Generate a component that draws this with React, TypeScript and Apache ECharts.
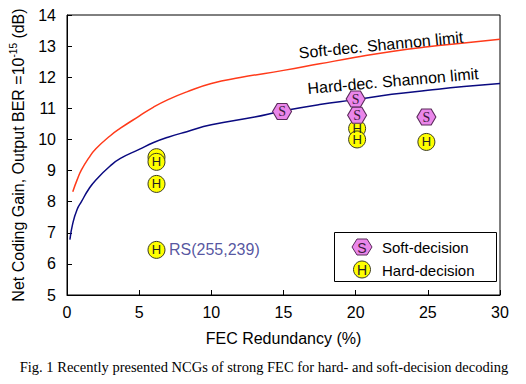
import React, { useEffect, useRef } from "react";
import * as echarts from "echarts";

const xTicks = [0, 5, 10, 15, 20, 25, 30];
const yTicks = [5, 6, 7, 8, 9, 10, 11, 12, 13, 14];

const softLimitX = [0.4, 0.7, 1, 1.5, 2, 3, 3.7, 5, 6, 7, 8.3, 10, 12, 15, 17.5, 20, 22.5, 25, 27.5, 30];
const softLimitY = [8.32, 8.7, 9.02, 9.4, 9.7, 10.12, 10.36, 10.75, 11.04, 11.28, 11.53, 11.8, 11.99, 12.22, 12.43, 12.64, 12.83, 12.98, 13.1, 13.22];

const hardLimitX = [0.2, 0.4, 0.7, 1, 1.5, 2, 3, 3.7, 5, 6, 7, 8.3, 10, 13, 15, 17.5, 20, 22.5, 25, 27.5, 30];
const hardLimitY = [6.78, 7.3, 7.75, 8.0, 8.4, 8.7, 9.15, 9.39, 9.68, 9.9, 10.07, 10.25, 10.47, 10.72, 10.92, 11.12, 11.28, 11.45, 11.58, 11.7, 11.8];

const hardCodesX = [6.2, 6.2, 6.2, 6.2, 20.1, 20.1, 24.9];
const hardCodesY = [9.43, 9.28, 8.57, 6.45, 10.35, 10.0, 9.92];
// points whose letter is hidden behind the marker in front of them
const hardHiddenLetter = [0];

const softCodesX = [14.9, 20.0, 20.1, 24.9];
const softCodesY = [10.9, 11.3, 10.78, 10.72];

const rsPoint = [6.2, 6.45];
const rsLabel = "RS(255,239)";

const SANS = "'Liberation Sans', Arial, sans-serif";
const SERIF = "'Liberation Serif', 'Times New Roman', serif";
const HEX = "path://M0,8.5 L5,0 L15,0 L20,8.5 L15,17 L5,17 Z";
const PINK = "#ea86ea";
const PINK_EDGE = "#5a2a5a";
const YELLOW = "#ffff00";
const YELLOW_EDGE = "#3a3a20";

const zip = (xs: number[], ys: number[]) => xs.map((x, i) => [x, ys[i]]);

export default function App() {
  const ref = useRef<HTMLDivElement>(null);
  useEffect(() => {
    document.body.style.margin = "0";
    const chart = echarts.init(ref.current!, null, { renderer: "svg" });
    const deg = Math.PI / 180;
    const hardData = zip(hardCodesX, hardCodesY).map((v, i) =>
      hardHiddenLetter.includes(i) ? { value: v, label: { show: false } } : { value: v }
    );
    chart.setOption({
      animation: false,
      backgroundColor: "#ffffff",
      grid: {
        left: 66,
        right: 26,
        top: 15,
        bottom: 89,
        show: true,
        borderColor: "#000",
        borderWidth: 1,
        backgroundColor: "transparent",
      },
      xAxis: {
        type: "value",
        min: xTicks[0],
        max: xTicks[xTicks.length - 1],
        interval: 5,
        axisLine: { show: true, lineStyle: { color: "#000", width: 1 } },
        axisTick: { show: true, inside: true, length: 5, lineStyle: { color: "#000" } },
        axisLabel: { color: "#000", fontSize: 16, fontFamily: SANS, margin: 9 },
        splitLine: { show: false },
        name: "FEC Redundancy (%)",
        nameLocation: "middle",
        nameGap: 35,
        nameTextStyle: { color: "#000", fontSize: 16, fontFamily: SANS },
      },
      yAxis: {
        type: "value",
        min: yTicks[0],
        max: yTicks[yTicks.length - 1],
        interval: 1,
        axisLine: { show: true, lineStyle: { color: "#000", width: 1 } },
        axisTick: { show: true, inside: true, length: 5, lineStyle: { color: "#000" } },
        axisLabel: { color: "#000", fontSize: 16, fontFamily: SANS, margin: 11 },
        splitLine: { show: false },
        name: "{a|Net Coding Gain, Output BER =10}{s|-15}{a| (dB)}",
        nameLocation: "middle",
        nameGap: 41,
        nameTextStyle: {
          color: "#000",
          fontFamily: SANS,
          rich: {
            a: { fontSize: 16, fontFamily: SANS, color: "#000", lineHeight: 18, verticalAlign: "bottom" },
            s: { fontSize: 10, fontFamily: SANS, color: "#000", lineHeight: 18, verticalAlign: "top" },
          },
        },
      },
      series: [
        {
          name: "Soft-dec. Shannon limit",
          type: "line",
          data: zip(softLimitX, softLimitY),
          smooth: true,
          showSymbol: false,
          lineStyle: { color: "#ff3a1a", width: 1.5 },
          z: 2,
        },
        {
          name: "Hard-dec. Shannon limit",
          type: "line",
          data: zip(hardLimitX, hardLimitY),
          smooth: true,
          showSymbol: false,
          lineStyle: { color: "#0a0a80", width: 1.5 },
          z: 2,
        },
        {
          name: "Hard-decision",
          type: "scatter",
          data: hardData,
          symbol: "circle",
          symbolSize: 17,
          itemStyle: { color: YELLOW, borderColor: YELLOW_EDGE, borderWidth: 1, opacity: 1 },
          label: {
            show: true,
            position: "inside",
            formatter: "H",
            fontFamily: SANS,
            fontSize: 13,
            lineHeight: 12,
            color: "#222",
          },
          z: 3,
        },
        {
          name: "Soft-decision",
          type: "scatter",
          data: zip(softCodesX, softCodesY),
          symbol: HEX,
          symbolSize: [19, 16],
          itemStyle: { color: PINK, borderColor: PINK_EDGE, borderWidth: 1, opacity: 1 },
          label: {
            show: true,
            position: "inside",
            formatter: "S",
            fontFamily: SERIF,
            fontSize: 14,
            lineHeight: 12,
            color: "#3a1a3a",
          },
          z: 4,
        },
        {
          name: "rs",
          type: "scatter",
          data: [rsPoint],
          symbolSize: 17,
          itemStyle: { color: "rgba(0,0,0,0)", borderWidth: 0 },
          label: {
            show: true,
            position: "right",
            distance: 4,
            formatter: rsLabel,
            fontFamily: SANS,
            fontSize: 16,
            color: "#2a2a88",
          },
          silent: true,
          z: 5,
        },
      ],
      graphic: [
        {
          type: "text",
          x: 381,
          y: 45,
          rotation: 5.5 * deg,
          style: {
            text: "Soft-dec. Shannon limit",
            fontFamily: SANS,
            fontSize: 16,
            fill: "#000",
            align: "center",
            verticalAlign: "middle",
          },
          z: 10,
        },
        {
          type: "text",
          x: 393,
          y: 81,
          rotation: 5 * deg,
          style: {
            text: "Hard-dec. Shannon limit",
            fontFamily: SANS,
            fontSize: 16,
            fill: "#000",
            align: "center",
            verticalAlign: "middle",
          },
          z: 10,
        },
        {
          type: "group",
          z: 20,
          children: [
            {
              type: "rect",
              shape: { x: 334.5, y: 232.5, width: 162, height: 49 },
              style: { fill: "#fff", stroke: "#000", lineWidth: 1 },
            },
            {
              type: "polygon",
              shape: {
                points: [
                  [352, 247],
                  [357, 239],
                  [367, 239],
                  [372, 247],
                  [367, 255],
                  [357, 255],
                ],
              },
              style: { fill: PINK, stroke: PINK_EDGE, lineWidth: 1 },
            },
            {
              type: "text",
              x: 362,
              y: 247.5,
              style: { text: "S", fontFamily: SANS, fontSize: 14, fill: "#3a1a3a", align: "center", verticalAlign: "middle" },
            },
            {
              type: "circle",
              shape: { cx: 362, cy: 269.5, r: 8.5 },
              style: { fill: YELLOW, stroke: YELLOW_EDGE, lineWidth: 1 },
            },
            {
              type: "text",
              x: 362,
              y: 270,
              style: { text: "H", fontFamily: SANS, fontSize: 14, fill: "#222", align: "center", verticalAlign: "middle" },
            },
            {
              type: "text",
              x: 382,
              y: 247,
              style: { text: "Soft-decision", fontFamily: SANS, fontSize: 15, fill: "#000", align: "left", verticalAlign: "middle" },
            },
            {
              type: "text",
              x: 382,
              y: 270,
              style: { text: "Hard-decision", fontFamily: SANS, fontSize: 15, fill: "#000", align: "left", verticalAlign: "middle" },
            },
          ],
        },
        {
          type: "text",
          x: 264,
          y: 367,
          style: {
            text: "Fig. 1 Recently presented NCGs of strong FEC for hard- and soft-decision decoding",
            fontFamily: SERIF,
            fontSize: 14.5,
            fill: "#000",
            align: "center",
            verticalAlign: "middle",
          },
          z: 10,
        },
      ],
    });
    return () => chart.dispose();
  }, []);
  return (
    <div
      ref={ref}
      style={{ position: "absolute", left: 0, top: 0, width: 526, height: 384, background: "#fff" }}
    />
  );
}
